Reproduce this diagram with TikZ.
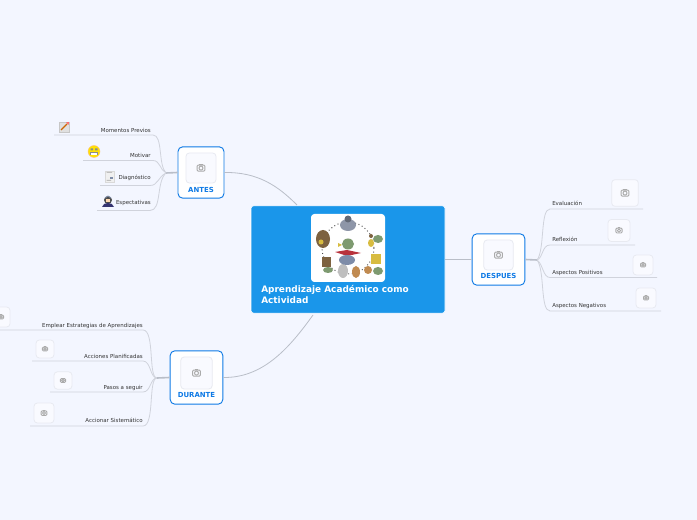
\documentclass[tikz,border=0pt]{standalone}
\usepackage{xcolor}
\usepackage{fontspec}
\setmainfont{DejaVu Sans}
\usetikzlibrary{arrows.meta, positioning, calc}

\definecolor{pagebg}{HTML}{F3F6FF}
\definecolor{mainblue}{HTML}{1A96EA}
\definecolor{topicblue}{HTML}{0F7AE5}
\definecolor{edgegray}{HTML}{B9BEC8}
\definecolor{leafgray}{HTML}{D0D3DC}
\definecolor{iconline}{HTML}{E8EAF1}
\definecolor{iconcam}{HTML}{ABABAB}
\definecolor{photogray}{HTML}{8E96A8}
\definecolor{photobrown}{HTML}{7D6240}
\definecolor{photoyellow}{HTML}{D8BC40}
\definecolor{photogreen}{HTML}{7E9A70}
\definecolor{photoorange}{HTML}{C08A50}
\definecolor{photoblue}{HTML}{7E8CA8}
\definecolor{photored}{HTML}{B8323C}

\tikzset{
	mainbox/.style={fill=mainblue, rounded corners=2pt, draw=white, line width=0.4pt, minimum width=145.5pt, minimum height=80.5pt},
	topicbox/.style={fill=white, draw=topicblue, rounded corners=3.5pt, line width=0.7pt},
	imagebox/.style={fill=pagebg!50!white, draw=iconline, rounded corners=2.5pt, line width=0.6pt},
	toplabel/.style={text=topicblue, font=\fontsize{5.2}{6}\selectfont\bfseries, inner sep=0pt},
	leaflabel/.style={text=black!80, font=\fontsize{4.1}{4.5}\selectfont, inner sep=0pt},
	leafline/.style={draw=leafgray, line width=0.6pt},
	stemline/.style={draw=edgegray, line width=1.2pt},
	bigedge/.style={draw=edgegray, line width=0.6pt},
	blob/.style={fill=#1, draw=none},
	camicon/.pic={
		\draw[iconcam, line width=0.7pt, rounded corners=0.8pt] (-3.9,-2.9) rectangle (3.9,3.1);
		\draw[iconcam, line width=0.7pt] (0,0.1) circle (2);
		\fill[iconcam] (-1.8,-2.9) rectangle (1.8,-3.9);
	}
}

\begin{document}
\begin{tikzpicture}[x=0.75pt, y=-0.75pt]
	% Page
	\clip (0,0) rectangle (697,520);
	\fill[pagebg] (0,0) rectangle (697,520);

	% Central node
	\node[mainbox] (main) at (348,259.5) {};
	\node[imagebox, fill=white, draw=none, minimum width=55.5pt, minimum height=51pt] (photo) at (348,248) {};
	\node[anchor=north west, text=white, align=left, inner sep=0pt, font=\fontsize{6.7}{8.2}\selectfont\bfseries] (maintext) at (261,285.5) {Aprendizaje Académico como\\Actividad};

	% Picture inside the central node
	\draw[black!70, dotted, line width=0.7pt] (348,248) circle (26);
	\fill[blob=photogray] (348,225) ellipse [x radius=8, y radius=6];
	\fill[blob=photogray!70!black] (348,219) circle (3.5);
	\fill[blob=photogreen] (378,239) ellipse [x radius=5, y radius=4];
	\fill[blob=photoyellow] (371,243) ellipse [x radius=3, y radius=4];
	\fill[blob=photobrown] (371,236) circle (2);
	\fill[blob=photoyellow] (371,254) rectangle (381,264);
	\fill[blob=photoorange] (368,270) ellipse [x radius=4, y radius=4];
	\fill[blob=photogreen] (378,271) ellipse [x radius=5, y radius=4];
	\fill[blob=black!25] (343,271) ellipse [x radius=5, y radius=7];
	\fill[blob=photoorange] (356,272) ellipse [x radius=4, y radius=6];
	\fill[blob=photobrown] (322,257) rectangle (331,267);
	\fill[blob=photogreen] (328,270) ellipse [x radius=5, y radius=3];
	\fill[blob=photobrown] (323,239) ellipse [x radius=7, y radius=9];
	\fill[blob=photoyellow] (321,242) circle (2.5);
	\fill[blob=photogreen] (348,244) ellipse [x radius=6, y radius=5.5];
	\fill[blob=photoyellow] (338,243) -- (342,245) -- (338,247) -- cycle;
	\fill[blob=photored] (335,252) -- (347,250) -- (361,253) -- (347,256) -- cycle;
	\fill[blob=photoblue] (347,260) ellipse [x radius=8, y radius=5];

	% Topic nodes
	\node[topicbox, minimum width=34.5pt, minimum height=38.5pt] (antes) at (201,172.5) {};
	\node[imagebox, minimum width=22.5pt, minimum height=22.5pt] (antesimg) at (201,168) {};
	\pic at (antesimg) {camicon};
	\node[toplabel] (anteslabel) at (201,189.5) {ANTES};

	\node[topicbox, minimum width=39.5pt, minimum height=40pt] (durante) at (196.5,377.5) {};
	\node[imagebox, minimum width=23.5pt, minimum height=24pt] (duranteimg) at (196.5,373) {};
	\pic at (duranteimg) {camicon};
	\node[toplabel] (durantelabel) at (196.5,395.5) {DURANTE};

	\node[topicbox, minimum width=39.5pt, minimum height=38.5pt] (despues) at (498.5,259.5) {};
	\node[imagebox, minimum width=22pt, minimum height=22.5pt] (despuesimg) at (498.5,255) {};
	\pic at (despuesimg) {camicon};
	\node[toplabel] (despueslabel) at (498.5,275.5) {DESPUES};

	% Edges from the central node
	\draw[bigedge] (antes.east) .. controls (258,172) and (278,186) .. (297,205);
	\draw[bigedge] (durante.east) .. controls (262,378) and (288,350) .. (313,315);
	\draw[bigedge] (main.east) -- (despues.west);

	% Hubs
	\coordinate (anteshub) at (166,173);
	\coordinate (durantehub) at (157,378);
	\coordinate (despueshub) at (537,260);
	\draw[stemline] (antes.west) -- (anteshub);
	\draw[stemline] (durante.west) -- (durantehub);
	\draw[stemline] (despues.east) -- (despueshub);

	% Leaves of ANTES
	\node[leaflabel, anchor=east] (momentos) at (151,130.5) {Momentos Previos};
	\node[leaflabel, anchor=east] (motivar) at (151,155.5) {Motivar};
	\node[leaflabel, anchor=east] (diagnostico) at (151,177.5) {Diagnóstico};
	\node[leaflabel, anchor=east] (expectativas) at (151,202.5) {Espectativas};
	\coordinate (momentosend) at (54,135);
	\coordinate (motivarend) at (83,160.5);
	\coordinate (diagnosticoend) at (100,185.5);
	\coordinate (expectativasend) at (97,210.5);
	\draw[leafline] (momentosend) -- (153,135) .. controls (163,135) and (158,165) .. (anteshub);
	\draw[leafline] (motivarend) -- (153,160.5) .. controls (160,160.5) and (160,170) .. (anteshub);
	\draw[leafline] (diagnosticoend) -- (150,185.5) .. controls (158,185.5) and (158,177) .. (anteshub);
	\draw[leafline] (expectativasend) -- (150,210.5) .. controls (162,210.5) and (156,182) .. (anteshub);

	% Leaf icons of ANTES
	\node[fill=black!12, draw=black!22, line width=0.3pt, minimum size=7.5pt, inner sep=0pt] (pencilicon) at (64,127) {};
	\draw[orange!80!black, line width=0.9pt] (61,130) -- (67,124);
	\fill[red!60] (66,122.5) -- (69,122) -- (68.5,125) -- cycle;
	\node[circle, fill=yellow!85!orange, draw=orange!50, line width=0.3pt, minimum size=9pt, inner sep=0pt] (smileicon) at (94,151.5) {};
	\fill[black!45] (90,152) rectangle (98,155.5);
	\fill[white] (91,152.6) rectangle (97,154.8);
	\fill[black!45] (90.5,148.5) rectangle (93,150.5) (95,148.5) rectangle (97.5,150.5);
	\node[fill=black!6, draw=black!15, line width=0.3pt, minimum width=6.5pt, minimum height=8.5pt, inner sep=0pt] (docicon) at (110,177) {};
	\fill[photoblue] (110,177) rectangle (113,179);
	\fill[black!25] (106.5,172) rectangle (112,173) (106.5,180) rectangle (111,181);
	\node[circle, fill=black!70, minimum size=6pt, inner sep=0pt] (personicon) at (108,200) {};
	\fill[blue!30!black!80] (102,207) .. controls (103,204) and (105,203) .. (108,203) .. controls (111,203) and (113,204) .. (114,207) -- cycle;
	\fill[orange!30] (106,199) rectangle (110,202);
	\draw[photoblue, line width=0.6pt] (105,198) -- (108,196) -- (111,198);

	% Leaves of DURANTE
	\node[leaflabel, anchor=east] (emplear) at (143,325.5) {Emplear Estrategias de Aprendizajes};
	\node[leaflabel, anchor=east] (planificadas) at (143,356.5) {Acciones Planificadas};
	\node[leaflabel, anchor=east] (pasos) at (143,387.5) {Pasos a seguir};
	\node[leaflabel, anchor=east] (accionar) at (143,420.5) {Accionar Sistemático};
	\coordinate (emplearend) at (-2,330);
	\coordinate (planificadasend) at (32,361);
	\coordinate (pasosend) at (50,392);
	\coordinate (accionarend) at (30,426);
	\draw[leafline] (emplearend) -- (143,330) .. controls (155,330) and (148,378) .. (durantehub);
	\draw[leafline] (planificadasend) -- (143,361) .. controls (151,361) and (150,378) .. (durantehub);
	\draw[leafline] (pasosend) -- (143,392) .. controls (151,392) and (150,378) .. (durantehub);
	\draw[leafline] (accionarend) -- (143,426) .. controls (155,426) and (148,378) .. (durantehub);

	\node[imagebox, minimum width=13.5pt, minimum height=15pt] (emplearimg) at (1,317) {};
	\pic[scale=0.65] at (emplearimg) {camicon};
	\node[imagebox, minimum width=13.5pt, minimum height=13.5pt] (planificadasimg) at (45,349) {};
	\pic[scale=0.65] at (planificadasimg) {camicon};
	\node[imagebox, minimum width=13.5pt, minimum height=13pt] (pasosimg) at (63,380.5) {};
	\pic[scale=0.65] at (pasosimg) {camicon};
	\node[imagebox, minimum width=15pt, minimum height=15pt] (accionarimg) at (44,413) {};
	\pic[scale=0.75] at (accionarimg) {camicon};

	% Leaves of DESPUES
	\node[leaflabel, anchor=west] (evaluacion) at (552,203.5) {Evaluación};
	\node[leaflabel, anchor=west] (reflexion) at (552,239.5) {Reflexión};
	\node[leaflabel, anchor=west] (positivos) at (552,272.5) {Aspectos Positivos};
	\node[leaflabel, anchor=west] (negativos) at (552,305.5) {Aspectos Negativos};
	\coordinate (evaluacionend) at (643,209);
	\coordinate (reflexionend) at (635,245);
	\coordinate (positivosend) at (657,277.5);
	\coordinate (negativosend) at (661,311);
	\draw[leafline] (evaluacionend) -- (550,209) .. controls (540,209) and (545,250) .. (despueshub);
	\draw[leafline] (reflexionend) -- (550,245) .. controls (542,245) and (543,258) .. (despueshub);
	\draw[leafline] (positivosend) -- (550,277.5) .. controls (543,277.5) and (543,264) .. (despueshub);
	\draw[leafline] (negativosend) -- (550,311) .. controls (540,311) and (545,270) .. (despueshub);

	\node[imagebox, minimum width=20pt, minimum height=20pt] (evaluacionimg) at (625,193) {};
	\pic at (evaluacionimg) {camicon};
	\node[imagebox, minimum width=16.5pt, minimum height=16.5pt] (reflexionimg) at (619,230.5) {};
	\pic[scale=0.8] at (reflexionimg) {camicon};
	\node[imagebox, minimum width=15pt, minimum height=15pt] (positivosimg) at (643,265) {};
	\pic[scale=0.65] at (positivosimg) {camicon};
	\node[imagebox, minimum width=15pt, minimum height=15pt] (negativosimg) at (646,298) {};
	\pic[scale=0.65] at (negativosimg) {camicon};
\end{tikzpicture}
\end{document}
